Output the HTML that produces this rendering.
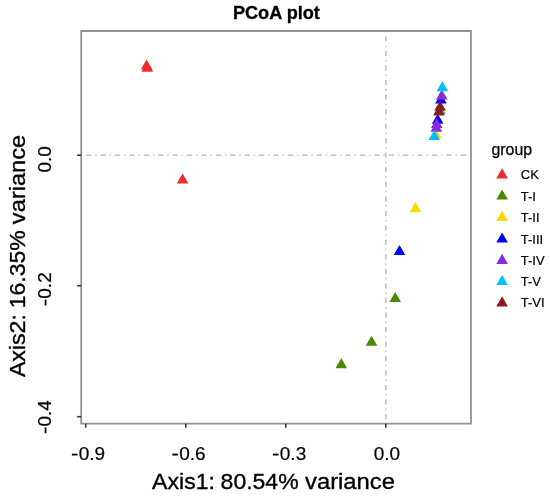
<!DOCTYPE html>
<html><head><meta charset="utf-8"><title>PCoA plot</title>
<style>
html,body{margin:0;padding:0;background:#fff;}
body{width:550px;height:497px;overflow:hidden;}
svg{display:block;font-family:"Liberation Sans",sans-serif;fill:#000;}
</style></head><body>
<svg width="550" height="497" viewBox="0 0 550 497">
<rect width="550" height="497" fill="#ffffff"/>
<line x1="80.9" y1="155.2" x2="471.0" y2="155.2" stroke="#b5b5b5" stroke-width="1.3" stroke-dasharray="1.310 3.930 5.240 3.930"/>
<line x1="385.85" y1="31.0" x2="385.85" y2="423.7" stroke="#b5b5b5" stroke-width="1.3" stroke-dasharray="1.321 3.963 5.284 3.963"/>
<rect x="81.2" y="31.0" width="389.8" height="392.7" fill="none" stroke="#929292" stroke-width="1.8" stroke-linejoin="round"/>
<line x1="85.7" y1="423.7" x2="85.7" y2="427.7" stroke="#333333" stroke-width="1.6"/>
<line x1="185.8" y1="423.7" x2="185.8" y2="427.7" stroke="#333333" stroke-width="1.6"/>
<line x1="285.8" y1="423.7" x2="285.8" y2="427.7" stroke="#333333" stroke-width="1.6"/>
<line x1="385.8" y1="423.7" x2="385.8" y2="427.7" stroke="#333333" stroke-width="1.6"/>
<line x1="77.2" y1="155.2" x2="81.2" y2="155.2" stroke="#333333" stroke-width="1.6"/>
<line x1="77.2" y1="285.7" x2="81.2" y2="285.7" stroke="#333333" stroke-width="1.6"/>
<line x1="77.2" y1="416.7" x2="81.2" y2="416.7" stroke="#333333" stroke-width="1.6"/>
<polygon points="141.50,71.70 153.10,71.70 147.30,61.60" fill="#ee2c2c"/>
<polygon points="140.80,69.60 152.40,69.60 146.60,59.50" fill="#ee2c2c"/>
<polygon points="176.80,183.55 188.40,183.55 182.60,173.45" fill="#ee2c2c"/>
<polygon points="389.40,302.10 401.00,302.10 395.20,292.00" fill="#458b00"/>
<polygon points="365.70,345.80 377.30,345.80 371.50,335.70" fill="#458b00"/>
<polygon points="335.50,368.20 347.10,368.20 341.30,358.10" fill="#458b00"/>
<polygon points="409.70,212.20 421.30,212.20 415.50,202.10" fill="#ffd700"/>
<polygon points="434.40,113.20 446.00,113.20 440.20,103.10" fill="#ffd700"/>
<polygon points="429.90,137.90 441.50,137.90 435.70,127.80" fill="#ffd700"/>
<polygon points="393.70,255.10 405.30,255.10 399.50,245.00" fill="#0000ff"/>
<polygon points="435.15,103.50 446.75,103.50 440.95,93.40" fill="#0000ff"/>
<polygon points="431.90,123.75 443.50,123.75 437.70,113.65" fill="#0000ff"/>
<polygon points="436.00,99.50 447.60,99.50 441.80,89.40" fill="#8a2be2"/>
<polygon points="431.00,128.10 442.60,128.10 436.80,118.00" fill="#8a2be2"/>
<polygon points="430.50,131.70 442.10,131.70 436.30,121.60" fill="#8a2be2"/>
<polygon points="436.60,91.20 448.20,91.20 442.40,81.10" fill="#00bfff"/>
<polygon points="434.00,114.20 445.60,114.20 439.80,104.10" fill="#00bfff"/>
<polygon points="428.50,140.00 440.10,140.00 434.30,129.90" fill="#00bfff"/>
<polygon points="434.30,110.50 445.90,110.50 440.10,100.40" fill="#8b1a1a"/>
<polygon points="433.20,115.40 444.80,115.40 439.00,105.30" fill="#8b1a1a"/>
<text x="232.9" y="18.9" font-weight="bold" font-size="18" textLength="87.0" lengthAdjust="spacingAndGlyphs" stroke="#000" stroke-width="0.3">PCoA plot</text>
<text y="459.8" font-size="18" stroke="#000" stroke-width="0.2"><tspan x="71.00" textLength="7.4" lengthAdjust="spacingAndGlyphs">-</tspan><tspan x="78.70" textLength="26.4" lengthAdjust="spacingAndGlyphs">0.9</tspan></text>
<text y="459.8" font-size="18" stroke="#000" stroke-width="0.2"><tspan x="171.50" textLength="7.4" lengthAdjust="spacingAndGlyphs">-</tspan><tspan x="179.20" textLength="26.4" lengthAdjust="spacingAndGlyphs">0.6</tspan></text>
<text y="459.8" font-size="18" stroke="#000" stroke-width="0.2"><tspan x="272.10" textLength="7.4" lengthAdjust="spacingAndGlyphs">-</tspan><tspan x="279.80" textLength="26.4" lengthAdjust="spacingAndGlyphs">0.3</tspan></text>
<text x="373.7" y="459.8" font-size="18" stroke="#000" stroke-width="0.2" textLength="26.4" lengthAdjust="spacingAndGlyphs">0.0</text>
<text transform="translate(51.4,306.30) rotate(-90)" font-size="18" stroke="#000" stroke-width="0.2"><tspan x="0" textLength="7.4" lengthAdjust="spacingAndGlyphs">-</tspan><tspan x="7.6" textLength="26.4" lengthAdjust="spacingAndGlyphs">0.2</tspan></text>
<text transform="translate(51.4,434.10) rotate(-90)" font-size="18" stroke="#000" stroke-width="0.2"><tspan x="0" textLength="7.4" lengthAdjust="spacingAndGlyphs">-</tspan><tspan x="7.6" textLength="26.4" lengthAdjust="spacingAndGlyphs">0.4</tspan></text>
<text transform="translate(51.4,172.6) rotate(-90)" font-size="18" stroke="#000" stroke-width="0.2" textLength="26.4" lengthAdjust="spacingAndGlyphs">0.0</text>
<text y="489.3" font-size="22.9" stroke="#000" stroke-width="0.35"><tspan x="152.00" textLength="63.00" lengthAdjust="spacingAndGlyphs">Axis1:</tspan> <tspan x="220.60" textLength="78.00" lengthAdjust="spacingAndGlyphs">80.54%</tspan> <tspan x="305.00" textLength="90.00" lengthAdjust="spacingAndGlyphs">variance</tspan></text>
<text transform="translate(25.2,377.1) rotate(-90)" font-size="22.9" stroke="#000" stroke-width="0.35"><tspan x="0.00" textLength="63.00" lengthAdjust="spacingAndGlyphs">Axis2:</tspan> <tspan x="68.90" textLength="78.00" lengthAdjust="spacingAndGlyphs">16.35%</tspan> <tspan x="152.90" textLength="89.50" lengthAdjust="spacingAndGlyphs">variance</tspan></text>
<text x="491.5" y="154.5" font-size="15.6" textLength="40.6" lengthAdjust="spacingAndGlyphs" stroke="#000" stroke-width="0.25">group</text>
<polygon points="496.30,178.40 507.90,178.40 502.10,168.30" fill="#ee2c2c"/>
<text x="520.8" y="179.3" font-size="13" stroke="#000" stroke-width="0.2">CK</text>
<polygon points="496.30,199.60 507.90,199.60 502.10,189.50" fill="#458b00"/>
<text x="520.8" y="200.6" font-size="13" stroke="#000" stroke-width="0.2">T-I</text>
<polygon points="496.30,220.90 507.90,220.90 502.10,210.80" fill="#ffd700"/>
<text x="520.8" y="221.9" font-size="13" stroke="#000" stroke-width="0.2">T-II</text>
<polygon points="496.30,242.60 507.90,242.60 502.10,232.50" fill="#0000ff"/>
<text x="520.8" y="243.5" font-size="13" stroke="#000" stroke-width="0.2">T-III</text>
<polygon points="496.30,263.90 507.90,263.90 502.10,253.80" fill="#8a2be2"/>
<text x="520.8" y="264.8" font-size="13" stroke="#000" stroke-width="0.2">T-IV</text>
<polygon points="496.30,285.10 507.90,285.10 502.10,275.00" fill="#00bfff"/>
<text x="520.8" y="286.1" font-size="13" stroke="#000" stroke-width="0.2">T-V</text>
<polygon points="496.30,306.40 507.90,306.40 502.10,296.30" fill="#8b1a1a"/>
<text x="520.8" y="307.3" font-size="13" stroke="#000" stroke-width="0.2">T-VI</text>
</svg>
</body></html>
